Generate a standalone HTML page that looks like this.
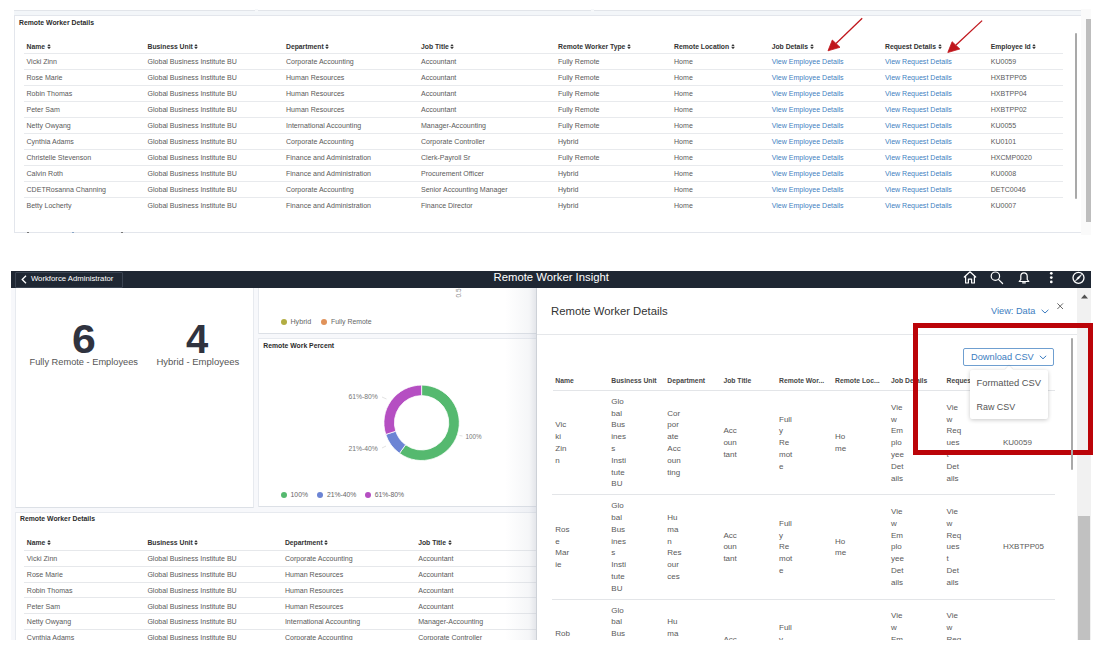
<!DOCTYPE html>
<html><head><meta charset="utf-8"><style>
html,body{margin:0;padding:0;}
body{width:1110px;height:655px;overflow:hidden;position:relative;background:#fff;font-family:"Liberation Sans",sans-serif;}
.t{position:absolute;white-space:nowrap;}
.r{position:absolute;}
</style></head><body>
<div class="r" style="left:14px;top:10px;width:1077px;height:1px;background:#e2e5ea"></div>
<div class="r" style="left:14px;top:11px;width:1077px;height:4px;background:#f3f6f9"></div>
<div class="r" style="left:255px;top:9px;width:3px;height:3px;background:#f6f8fa"></div>
<div class="r" style="left:591px;top:9px;width:3px;height:3px;background:#f6f8fa"></div>
<div class="r" style="left:13.5px;top:15px;width:1068px;height:218px;background:#fff;border:1px solid #e3e6ec;box-sizing:border-box"></div>
<div class="t " style="left:19px;top:18.75px;font-size:6.86px;line-height:7.89px;color:#2b2b2b;font-weight:bold;">Remote Worker Details</div>
<div class="r" style="left:27px;top:231.5px;width:2px;height:1px;background:#777"></div>
<div class="r" style="left:71.5px;top:231.5px;width:2px;height:1px;background:#8aa6c6"></div>
<div class="r" style="left:121px;top:231.5px;width:2px;height:1px;background:#777"></div>
<div class="t" style="left:26.5px;top:42.89px;font-size:6.8px;line-height:7.82px;color:#333;font-weight:bold">Name<svg width="4" height="5.2" viewBox="0 0 4 5.2" style="margin-left:1.6px;vertical-align:-0.2px"><path d="M0.2 2.2 L2 0 L3.8 2.2Z M0.2 3 L3.8 3 L2 5.2Z" fill="#3a3a3a"/></svg></div>
<div class="t" style="left:147.5px;top:42.89px;font-size:6.8px;line-height:7.82px;color:#333;font-weight:bold">Business Unit<svg width="4" height="5.2" viewBox="0 0 4 5.2" style="margin-left:1.6px;vertical-align:-0.2px"><path d="M0.2 2.2 L2 0 L3.8 2.2Z M0.2 3 L3.8 3 L2 5.2Z" fill="#3a3a3a"/></svg></div>
<div class="t" style="left:286px;top:42.89px;font-size:6.8px;line-height:7.82px;color:#333;font-weight:bold">Department<svg width="4" height="5.2" viewBox="0 0 4 5.2" style="margin-left:1.6px;vertical-align:-0.2px"><path d="M0.2 2.2 L2 0 L3.8 2.2Z M0.2 3 L3.8 3 L2 5.2Z" fill="#3a3a3a"/></svg></div>
<div class="t" style="left:421px;top:42.89px;font-size:6.8px;line-height:7.82px;color:#333;font-weight:bold">Job Title<svg width="4" height="5.2" viewBox="0 0 4 5.2" style="margin-left:1.6px;vertical-align:-0.2px"><path d="M0.2 2.2 L2 0 L3.8 2.2Z M0.2 3 L3.8 3 L2 5.2Z" fill="#3a3a3a"/></svg></div>
<div class="t" style="left:558px;top:42.89px;font-size:6.8px;line-height:7.82px;color:#333;font-weight:bold">Remote Worker Type<svg width="4" height="5.2" viewBox="0 0 4 5.2" style="margin-left:1.6px;vertical-align:-0.2px"><path d="M0.2 2.2 L2 0 L3.8 2.2Z M0.2 3 L3.8 3 L2 5.2Z" fill="#3a3a3a"/></svg></div>
<div class="t" style="left:674px;top:42.89px;font-size:6.8px;line-height:7.82px;color:#333;font-weight:bold">Remote Location<svg width="4" height="5.2" viewBox="0 0 4 5.2" style="margin-left:1.6px;vertical-align:-0.2px"><path d="M0.2 2.2 L2 0 L3.8 2.2Z M0.2 3 L3.8 3 L2 5.2Z" fill="#3a3a3a"/></svg></div>
<div class="t" style="left:771.7px;top:42.89px;font-size:6.8px;line-height:7.82px;color:#333;font-weight:bold">Job Details<svg width="4" height="5.2" viewBox="0 0 4 5.2" style="margin-left:1.6px;vertical-align:-0.2px"><path d="M0.2 2.2 L2 0 L3.8 2.2Z M0.2 3 L3.8 3 L2 5.2Z" fill="#3a3a3a"/></svg></div>
<div class="t" style="left:885px;top:42.89px;font-size:6.8px;line-height:7.82px;color:#333;font-weight:bold">Request Details<svg width="4" height="5.2" viewBox="0 0 4 5.2" style="margin-left:1.6px;vertical-align:-0.2px"><path d="M0.2 2.2 L2 0 L3.8 2.2Z M0.2 3 L3.8 3 L2 5.2Z" fill="#3a3a3a"/></svg></div>
<div class="t" style="left:990.7px;top:42.89px;font-size:6.8px;line-height:7.82px;color:#333;font-weight:bold">Employee Id<svg width="4" height="5.2" viewBox="0 0 4 5.2" style="margin-left:1.6px;vertical-align:-0.2px"><path d="M0.2 2.2 L2 0 L3.8 2.2Z M0.2 3 L3.8 3 L2 5.2Z" fill="#3a3a3a"/></svg></div>
<div class="r" style="left:24px;top:53.4px;width:1039px;height:1px;background:#e8eaed"></div>
<div class="t " style="left:26.5px;top:58.34px;font-size:7.05px;line-height:8.11px;color:#5a5a5a;font-weight:normal;">Vicki Zinn</div>
<div class="t " style="left:147.5px;top:58.34px;font-size:7.05px;line-height:8.11px;color:#5a5a5a;font-weight:normal;">Global Business Institute BU</div>
<div class="t " style="left:286px;top:58.34px;font-size:7.05px;line-height:8.11px;color:#5a5a5a;font-weight:normal;">Corporate Accounting</div>
<div class="t " style="left:421px;top:58.34px;font-size:7.05px;line-height:8.11px;color:#5a5a5a;font-weight:normal;">Accountant</div>
<div class="t " style="left:558px;top:58.34px;font-size:7.05px;line-height:8.11px;color:#5a5a5a;font-weight:normal;">Fully Remote</div>
<div class="t " style="left:674px;top:58.34px;font-size:7.05px;line-height:8.11px;color:#5a5a5a;font-weight:normal;">Home</div>
<div class="t " style="left:771.7px;top:58.34px;font-size:7.05px;line-height:8.11px;color:#3f7fbf;font-weight:normal;">View Employee Details</div>
<div class="t " style="left:885px;top:58.34px;font-size:7.05px;line-height:8.11px;color:#3f7fbf;font-weight:normal;">View Request Details</div>
<div class="t " style="left:990.7px;top:58.34px;font-size:7.05px;line-height:8.11px;color:#5a5a5a;font-weight:normal;">KU0059</div>
<div class="r" style="left:24px;top:69.36px;width:1039px;height:1px;background:#e8eaed"></div>
<div class="t " style="left:26.5px;top:74.31px;font-size:7.05px;line-height:8.11px;color:#5a5a5a;font-weight:normal;">Rose Marie</div>
<div class="t " style="left:147.5px;top:74.31px;font-size:7.05px;line-height:8.11px;color:#5a5a5a;font-weight:normal;">Global Business Institute BU</div>
<div class="t " style="left:286px;top:74.31px;font-size:7.05px;line-height:8.11px;color:#5a5a5a;font-weight:normal;">Human Resources</div>
<div class="t " style="left:421px;top:74.31px;font-size:7.05px;line-height:8.11px;color:#5a5a5a;font-weight:normal;">Accountant</div>
<div class="t " style="left:558px;top:74.31px;font-size:7.05px;line-height:8.11px;color:#5a5a5a;font-weight:normal;">Fully Remote</div>
<div class="t " style="left:674px;top:74.31px;font-size:7.05px;line-height:8.11px;color:#5a5a5a;font-weight:normal;">Home</div>
<div class="t " style="left:771.7px;top:74.31px;font-size:7.05px;line-height:8.11px;color:#3f7fbf;font-weight:normal;">View Employee Details</div>
<div class="t " style="left:885px;top:74.31px;font-size:7.05px;line-height:8.11px;color:#3f7fbf;font-weight:normal;">View Request Details</div>
<div class="t " style="left:990.7px;top:74.31px;font-size:7.05px;line-height:8.11px;color:#5a5a5a;font-weight:normal;">HXBTPP05</div>
<div class="r" style="left:24px;top:85.32px;width:1039px;height:1px;background:#e8eaed"></div>
<div class="t " style="left:26.5px;top:90.26px;font-size:7.05px;line-height:8.11px;color:#5a5a5a;font-weight:normal;">Robin Thomas</div>
<div class="t " style="left:147.5px;top:90.26px;font-size:7.05px;line-height:8.11px;color:#5a5a5a;font-weight:normal;">Global Business Institute BU</div>
<div class="t " style="left:286px;top:90.26px;font-size:7.05px;line-height:8.11px;color:#5a5a5a;font-weight:normal;">Human Resources</div>
<div class="t " style="left:421px;top:90.26px;font-size:7.05px;line-height:8.11px;color:#5a5a5a;font-weight:normal;">Accountant</div>
<div class="t " style="left:558px;top:90.26px;font-size:7.05px;line-height:8.11px;color:#5a5a5a;font-weight:normal;">Fully Remote</div>
<div class="t " style="left:674px;top:90.26px;font-size:7.05px;line-height:8.11px;color:#5a5a5a;font-weight:normal;">Home</div>
<div class="t " style="left:771.7px;top:90.26px;font-size:7.05px;line-height:8.11px;color:#3f7fbf;font-weight:normal;">View Employee Details</div>
<div class="t " style="left:885px;top:90.26px;font-size:7.05px;line-height:8.11px;color:#3f7fbf;font-weight:normal;">View Request Details</div>
<div class="t " style="left:990.7px;top:90.26px;font-size:7.05px;line-height:8.11px;color:#5a5a5a;font-weight:normal;">HXBTPP04</div>
<div class="r" style="left:24px;top:101.28px;width:1039px;height:1px;background:#e8eaed"></div>
<div class="t " style="left:26.5px;top:106.22px;font-size:7.05px;line-height:8.11px;color:#5a5a5a;font-weight:normal;">Peter Sam</div>
<div class="t " style="left:147.5px;top:106.22px;font-size:7.05px;line-height:8.11px;color:#5a5a5a;font-weight:normal;">Global Business Institute BU</div>
<div class="t " style="left:286px;top:106.22px;font-size:7.05px;line-height:8.11px;color:#5a5a5a;font-weight:normal;">Human Resources</div>
<div class="t " style="left:421px;top:106.22px;font-size:7.05px;line-height:8.11px;color:#5a5a5a;font-weight:normal;">Accountant</div>
<div class="t " style="left:558px;top:106.22px;font-size:7.05px;line-height:8.11px;color:#5a5a5a;font-weight:normal;">Fully Remote</div>
<div class="t " style="left:674px;top:106.22px;font-size:7.05px;line-height:8.11px;color:#5a5a5a;font-weight:normal;">Home</div>
<div class="t " style="left:771.7px;top:106.22px;font-size:7.05px;line-height:8.11px;color:#3f7fbf;font-weight:normal;">View Employee Details</div>
<div class="t " style="left:885px;top:106.22px;font-size:7.05px;line-height:8.11px;color:#3f7fbf;font-weight:normal;">View Request Details</div>
<div class="t " style="left:990.7px;top:106.22px;font-size:7.05px;line-height:8.11px;color:#5a5a5a;font-weight:normal;">HXBTPP02</div>
<div class="r" style="left:24px;top:117.24px;width:1039px;height:1px;background:#e8eaed"></div>
<div class="t " style="left:26.5px;top:122.19px;font-size:7.05px;line-height:8.11px;color:#5a5a5a;font-weight:normal;">Netty Owyang</div>
<div class="t " style="left:147.5px;top:122.19px;font-size:7.05px;line-height:8.11px;color:#5a5a5a;font-weight:normal;">Global Business Institute BU</div>
<div class="t " style="left:286px;top:122.19px;font-size:7.05px;line-height:8.11px;color:#5a5a5a;font-weight:normal;">International Accounting</div>
<div class="t " style="left:421px;top:122.19px;font-size:7.05px;line-height:8.11px;color:#5a5a5a;font-weight:normal;">Manager-Accounting</div>
<div class="t " style="left:558px;top:122.19px;font-size:7.05px;line-height:8.11px;color:#5a5a5a;font-weight:normal;">Fully Remote</div>
<div class="t " style="left:674px;top:122.19px;font-size:7.05px;line-height:8.11px;color:#5a5a5a;font-weight:normal;">Home</div>
<div class="t " style="left:771.7px;top:122.19px;font-size:7.05px;line-height:8.11px;color:#3f7fbf;font-weight:normal;">View Employee Details</div>
<div class="t " style="left:885px;top:122.19px;font-size:7.05px;line-height:8.11px;color:#3f7fbf;font-weight:normal;">View Request Details</div>
<div class="t " style="left:990.7px;top:122.19px;font-size:7.05px;line-height:8.11px;color:#5a5a5a;font-weight:normal;">KU0055</div>
<div class="r" style="left:24px;top:133.2px;width:1039px;height:1px;background:#e8eaed"></div>
<div class="t " style="left:26.5px;top:138.15px;font-size:7.05px;line-height:8.11px;color:#5a5a5a;font-weight:normal;">Cynthia Adams</div>
<div class="t " style="left:147.5px;top:138.15px;font-size:7.05px;line-height:8.11px;color:#5a5a5a;font-weight:normal;">Global Business Institute BU</div>
<div class="t " style="left:286px;top:138.15px;font-size:7.05px;line-height:8.11px;color:#5a5a5a;font-weight:normal;">Corporate Accounting</div>
<div class="t " style="left:421px;top:138.15px;font-size:7.05px;line-height:8.11px;color:#5a5a5a;font-weight:normal;">Corporate Controller</div>
<div class="t " style="left:558px;top:138.15px;font-size:7.05px;line-height:8.11px;color:#5a5a5a;font-weight:normal;">Hybrid</div>
<div class="t " style="left:674px;top:138.15px;font-size:7.05px;line-height:8.11px;color:#5a5a5a;font-weight:normal;">Home</div>
<div class="t " style="left:771.7px;top:138.15px;font-size:7.05px;line-height:8.11px;color:#3f7fbf;font-weight:normal;">View Employee Details</div>
<div class="t " style="left:885px;top:138.15px;font-size:7.05px;line-height:8.11px;color:#3f7fbf;font-weight:normal;">View Request Details</div>
<div class="t " style="left:990.7px;top:138.15px;font-size:7.05px;line-height:8.11px;color:#5a5a5a;font-weight:normal;">KU0101</div>
<div class="r" style="left:24px;top:149.16px;width:1039px;height:1px;background:#e8eaed"></div>
<div class="t " style="left:26.5px;top:154.1px;font-size:7.05px;line-height:8.11px;color:#5a5a5a;font-weight:normal;">Christelle Stevenson</div>
<div class="t " style="left:147.5px;top:154.1px;font-size:7.05px;line-height:8.11px;color:#5a5a5a;font-weight:normal;">Global Business Institute BU</div>
<div class="t " style="left:286px;top:154.1px;font-size:7.05px;line-height:8.11px;color:#5a5a5a;font-weight:normal;">Finance and Administration</div>
<div class="t " style="left:421px;top:154.1px;font-size:7.05px;line-height:8.11px;color:#5a5a5a;font-weight:normal;">Clerk-Payroll Sr</div>
<div class="t " style="left:558px;top:154.1px;font-size:7.05px;line-height:8.11px;color:#5a5a5a;font-weight:normal;">Fully Remote</div>
<div class="t " style="left:674px;top:154.1px;font-size:7.05px;line-height:8.11px;color:#5a5a5a;font-weight:normal;">Home</div>
<div class="t " style="left:771.7px;top:154.1px;font-size:7.05px;line-height:8.11px;color:#3f7fbf;font-weight:normal;">View Employee Details</div>
<div class="t " style="left:885px;top:154.1px;font-size:7.05px;line-height:8.11px;color:#3f7fbf;font-weight:normal;">View Request Details</div>
<div class="t " style="left:990.7px;top:154.1px;font-size:7.05px;line-height:8.11px;color:#5a5a5a;font-weight:normal;">HXCMP0020</div>
<div class="r" style="left:24px;top:165.12px;width:1039px;height:1px;background:#e8eaed"></div>
<div class="t " style="left:26.5px;top:170.06px;font-size:7.05px;line-height:8.11px;color:#5a5a5a;font-weight:normal;">Calvin Roth</div>
<div class="t " style="left:147.5px;top:170.06px;font-size:7.05px;line-height:8.11px;color:#5a5a5a;font-weight:normal;">Global Business Institute BU</div>
<div class="t " style="left:286px;top:170.06px;font-size:7.05px;line-height:8.11px;color:#5a5a5a;font-weight:normal;">Finance and Administration</div>
<div class="t " style="left:421px;top:170.06px;font-size:7.05px;line-height:8.11px;color:#5a5a5a;font-weight:normal;">Procurement Officer</div>
<div class="t " style="left:558px;top:170.06px;font-size:7.05px;line-height:8.11px;color:#5a5a5a;font-weight:normal;">Hybrid</div>
<div class="t " style="left:674px;top:170.06px;font-size:7.05px;line-height:8.11px;color:#5a5a5a;font-weight:normal;">Home</div>
<div class="t " style="left:771.7px;top:170.06px;font-size:7.05px;line-height:8.11px;color:#3f7fbf;font-weight:normal;">View Employee Details</div>
<div class="t " style="left:885px;top:170.06px;font-size:7.05px;line-height:8.11px;color:#3f7fbf;font-weight:normal;">View Request Details</div>
<div class="t " style="left:990.7px;top:170.06px;font-size:7.05px;line-height:8.11px;color:#5a5a5a;font-weight:normal;">KU0008</div>
<div class="r" style="left:24px;top:181.08px;width:1039px;height:1px;background:#e8eaed"></div>
<div class="t " style="left:26.5px;top:186.03px;font-size:7.05px;line-height:8.11px;color:#5a5a5a;font-weight:normal;">CDETRosanna Channing</div>
<div class="t " style="left:147.5px;top:186.03px;font-size:7.05px;line-height:8.11px;color:#5a5a5a;font-weight:normal;">Global Business Institute BU</div>
<div class="t " style="left:286px;top:186.03px;font-size:7.05px;line-height:8.11px;color:#5a5a5a;font-weight:normal;">Corporate Accounting</div>
<div class="t " style="left:421px;top:186.03px;font-size:7.05px;line-height:8.11px;color:#5a5a5a;font-weight:normal;">Senior Accounting Manager</div>
<div class="t " style="left:558px;top:186.03px;font-size:7.05px;line-height:8.11px;color:#5a5a5a;font-weight:normal;">Hybrid</div>
<div class="t " style="left:674px;top:186.03px;font-size:7.05px;line-height:8.11px;color:#5a5a5a;font-weight:normal;">Home</div>
<div class="t " style="left:771.7px;top:186.03px;font-size:7.05px;line-height:8.11px;color:#3f7fbf;font-weight:normal;">View Employee Details</div>
<div class="t " style="left:885px;top:186.03px;font-size:7.05px;line-height:8.11px;color:#3f7fbf;font-weight:normal;">View Request Details</div>
<div class="t " style="left:990.7px;top:186.03px;font-size:7.05px;line-height:8.11px;color:#5a5a5a;font-weight:normal;">DETC0046</div>
<div class="r" style="left:24px;top:197.04px;width:1039px;height:1px;background:#e8eaed"></div>
<div class="t " style="left:26.5px;top:201.99px;font-size:7.05px;line-height:8.11px;color:#5a5a5a;font-weight:normal;">Betty Locherty</div>
<div class="t " style="left:147.5px;top:201.99px;font-size:7.05px;line-height:8.11px;color:#5a5a5a;font-weight:normal;">Global Business Institute BU</div>
<div class="t " style="left:286px;top:201.99px;font-size:7.05px;line-height:8.11px;color:#5a5a5a;font-weight:normal;">Finance and Administration</div>
<div class="t " style="left:421px;top:201.99px;font-size:7.05px;line-height:8.11px;color:#5a5a5a;font-weight:normal;">Finance Director</div>
<div class="t " style="left:558px;top:201.99px;font-size:7.05px;line-height:8.11px;color:#5a5a5a;font-weight:normal;">Hybrid</div>
<div class="t " style="left:674px;top:201.99px;font-size:7.05px;line-height:8.11px;color:#5a5a5a;font-weight:normal;">Home</div>
<div class="t " style="left:771.7px;top:201.99px;font-size:7.05px;line-height:8.11px;color:#3f7fbf;font-weight:normal;">View Employee Details</div>
<div class="t " style="left:885px;top:201.99px;font-size:7.05px;line-height:8.11px;color:#3f7fbf;font-weight:normal;">View Request Details</div>
<div class="t " style="left:990.7px;top:201.99px;font-size:7.05px;line-height:8.11px;color:#5a5a5a;font-weight:normal;">KU0007</div>
<div class="r" style="left:1075.3px;top:33px;width:1.7px;height:165.5px;background:#a9a9a9;border-radius:1px"></div>
<div class="r" style="left:1081px;top:9px;width:10px;height:226px;background:#fafafa"></div>
<div class="r" style="left:1086.2px;top:19px;width:4.8px;height:203px;background:#bdbdbd"></div>
<svg class="r" style="left:0;top:0" width="1110" height="260" viewBox="0 0 1110 260">
<g stroke="#c0161c" stroke-width="1.3" fill="#c0161c">
<line x1="862.2" y1="18.2" x2="836" y2="43.5"/>
<path d="M828 50.8 L832.3 40 L840 47.3Z" stroke-width="0.8"/>
<line x1="982.1" y1="20.6" x2="956" y2="45"/>
<path d="M947.8 52.5 L952.1 41.7 L959.8 49Z" stroke-width="0.8"/>
</g></svg>
<div class="r" style="left:11px;top:288px;width:1066px;height:352px;background:#f7f8fb"></div>
<div class="r" style="left:15px;top:288px;width:239px;height:219.5px;background:#fff;border:1px solid #e7eaef;border-bottom-color:#dce0e6;border-top:none;box-sizing:border-box;border-radius:0 0 1px 1px"></div>
<div class="t" style="left:72.2px;top:316px;font-size:40px;line-height:46px;color:#30333f;font-weight:bold;transform:scaleX(1.07);transform-origin:0 0">6</div>
<div class="t" style="left:186px;top:316px;font-size:40px;line-height:46px;color:#30333f;font-weight:bold">4</div>
<div class="t " style="left:29.5px;top:357.18px;font-size:9.25px;line-height:10.64px;color:#555;font-weight:normal;">Fully Remote - Employees</div>
<div class="t " style="left:156.4px;top:357.04px;font-size:9.5px;line-height:10.92px;color:#555;font-weight:normal;">Hybrid - Employees</div>
<div class="r" style="left:258px;top:288px;width:285.5px;height:46px;background:#fff;border:1px solid #e7eaef;border-bottom-color:#dce0e6;border-top:none;box-sizing:border-box;border-radius:0 0 1px 1px"></div>
<div class="t" style="left:454px;top:289px;font-size:6.5px;line-height:8px;color:#888;transform:rotate(-90deg);transform-origin:50% 50%">0.5</div>
<div class="r" style="left:280.6px;top:319.1px;width:6.2px;height:6.2px;background:#b2ad42;border-radius:50%"></div>
<div class="t " style="left:290.4px;top:318.06px;font-size:7.2px;line-height:8.28px;color:#666;font-weight:normal;">Hybrid</div>
<div class="r" style="left:321.3px;top:319.1px;width:6.2px;height:6.2px;background:#e0925a;border-radius:50%"></div>
<div class="t " style="left:331px;top:318.24px;font-size:6.9px;line-height:7.93px;color:#666;font-weight:normal;">Fully Remote</div>
<div class="r" style="left:258px;top:338px;width:285.5px;height:168.5px;background:#fff;border:1px solid #e7eaef;border-bottom-color:#dce0e6;box-sizing:border-box;border-radius:1px"></div>
<div class="t " style="left:263.3px;top:341.68px;font-size:6.83px;line-height:7.85px;color:#2b2b2b;font-weight:bold;">Remote Work Percent</div>
<svg class="r" style="left:0;top:0" width="1110" height="655" viewBox="0 0 1110 655"><path d="M421.60 385.10 A37.7 37.7 0 1 1 399.44 453.30 L405.61 444.81 A27.2 27.2 0 1 0 421.60 395.60Z" fill="#55b96f" stroke="#fff" stroke-width="0.8"/><path d="M399.44 453.30 A37.7 37.7 0 0 1 385.75 434.45 L395.73 431.21 A27.2 27.2 0 0 0 405.61 444.81Z" fill="#6c84d4" stroke="#fff" stroke-width="0.8"/><path d="M385.75 434.45 A37.7 37.7 0 0 1 421.60 385.10 L421.60 395.60 A27.2 27.2 0 0 0 395.73 431.21Z" fill="#b54fc2" stroke="#fff" stroke-width="0.8"/><g stroke="#d5d5d5" stroke-width="0.7" fill="none"><path d="M382 397 L386.5 399"/><path d="M382 448 L386 446"/><path d="M459.5 435.5 L462.5 436"/></g></svg>
<div class="t " style="left:348.4px;top:392.89px;font-size:6.8px;line-height:7.82px;color:#777;font-weight:normal;">61%-80%</div>
<div class="t " style="left:348.4px;top:444.99px;font-size:6.8px;line-height:7.82px;color:#777;font-weight:normal;">21%-40%</div>
<div class="t " style="left:465.5px;top:432.58px;font-size:6.3px;line-height:7.24px;color:#777;font-weight:normal;">100%</div>
<div class="r" style="left:280.9px;top:492.2px;width:6.2px;height:6.2px;background:#55b96f;border-radius:50%"></div>
<div class="t " style="left:290.6px;top:491.39px;font-size:6.8px;line-height:7.82px;color:#666;font-weight:normal;">100%</div>
<div class="r" style="left:317.1px;top:492.2px;width:6.2px;height:6.2px;background:#6c84d4;border-radius:50%"></div>
<div class="t " style="left:326.9px;top:491.39px;font-size:6.8px;line-height:7.82px;color:#666;font-weight:normal;">21%-40%</div>
<div class="r" style="left:364.9px;top:492.2px;width:6.2px;height:6.2px;background:#b54fc2;border-radius:50%"></div>
<div class="t " style="left:374.7px;top:491.39px;font-size:6.8px;line-height:7.82px;color:#666;font-weight:normal;">61%-80%</div>
<div class="r" style="left:15px;top:511.6px;width:530px;height:140px;background:#fff;border:1px solid #e7eaef;border-bottom-color:#dce0e6;box-sizing:border-box;border-radius:1px"></div>
<div class="t " style="left:20px;top:515.05px;font-size:6.86px;line-height:7.89px;color:#2b2b2b;font-weight:bold;">Remote Worker Details</div>
<div class="t" style="left:26.8px;top:539.29px;font-size:6.8px;line-height:7.82px;color:#333;font-weight:bold">Name<svg width="4" height="5.2" viewBox="0 0 4 5.2" style="margin-left:1.6px;vertical-align:-0.2px"><path d="M0.2 2.2 L2 0 L3.8 2.2Z M0.2 3 L3.8 3 L2 5.2Z" fill="#3a3a3a"/></svg></div>
<div class="t" style="left:147.4px;top:539.29px;font-size:6.8px;line-height:7.82px;color:#333;font-weight:bold">Business Unit<svg width="4" height="5.2" viewBox="0 0 4 5.2" style="margin-left:1.6px;vertical-align:-0.2px"><path d="M0.2 2.2 L2 0 L3.8 2.2Z M0.2 3 L3.8 3 L2 5.2Z" fill="#3a3a3a"/></svg></div>
<div class="t" style="left:284.9px;top:539.29px;font-size:6.8px;line-height:7.82px;color:#333;font-weight:bold">Department<svg width="4" height="5.2" viewBox="0 0 4 5.2" style="margin-left:1.6px;vertical-align:-0.2px"><path d="M0.2 2.2 L2 0 L3.8 2.2Z M0.2 3 L3.8 3 L2 5.2Z" fill="#3a3a3a"/></svg></div>
<div class="t" style="left:418.2px;top:539.29px;font-size:6.8px;line-height:7.82px;color:#333;font-weight:bold">Job Title<svg width="4" height="5.2" viewBox="0 0 4 5.2" style="margin-left:1.6px;vertical-align:-0.2px"><path d="M0.2 2.2 L2 0 L3.8 2.2Z M0.2 3 L3.8 3 L2 5.2Z" fill="#3a3a3a"/></svg></div>
<div class="r" style="left:24px;top:550.0px;width:520px;height:1px;background:#e6e8eb"></div>
<div class="t " style="left:26.8px;top:554.95px;font-size:7.05px;line-height:8.11px;color:#5a5a5a;font-weight:normal;">Vicki Zinn</div>
<div class="t " style="left:147.4px;top:554.95px;font-size:7.05px;line-height:8.11px;color:#5a5a5a;font-weight:normal;">Global Business Institute BU</div>
<div class="t " style="left:284.9px;top:554.95px;font-size:7.05px;line-height:8.11px;color:#5a5a5a;font-weight:normal;">Corporate Accounting</div>
<div class="t " style="left:418.2px;top:554.95px;font-size:7.05px;line-height:8.11px;color:#5a5a5a;font-weight:normal;">Accountant</div>
<div class="r" style="left:24px;top:565.8px;width:520px;height:1px;background:#e6e8eb"></div>
<div class="t " style="left:26.8px;top:570.8px;font-size:7.05px;line-height:8.11px;color:#5a5a5a;font-weight:normal;">Rose Marie</div>
<div class="t " style="left:147.4px;top:570.8px;font-size:7.05px;line-height:8.11px;color:#5a5a5a;font-weight:normal;">Global Business Institute BU</div>
<div class="t " style="left:284.9px;top:570.8px;font-size:7.05px;line-height:8.11px;color:#5a5a5a;font-weight:normal;">Human Resources</div>
<div class="t " style="left:418.2px;top:570.8px;font-size:7.05px;line-height:8.11px;color:#5a5a5a;font-weight:normal;">Accountant</div>
<div class="r" style="left:24px;top:581.6px;width:520px;height:1px;background:#e6e8eb"></div>
<div class="t " style="left:26.8px;top:586.65px;font-size:7.05px;line-height:8.11px;color:#5a5a5a;font-weight:normal;">Robin Thomas</div>
<div class="t " style="left:147.4px;top:586.65px;font-size:7.05px;line-height:8.11px;color:#5a5a5a;font-weight:normal;">Global Business Institute BU</div>
<div class="t " style="left:284.9px;top:586.65px;font-size:7.05px;line-height:8.11px;color:#5a5a5a;font-weight:normal;">Human Resources</div>
<div class="t " style="left:418.2px;top:586.65px;font-size:7.05px;line-height:8.11px;color:#5a5a5a;font-weight:normal;">Accountant</div>
<div class="r" style="left:24px;top:597.4px;width:520px;height:1px;background:#e6e8eb"></div>
<div class="t " style="left:26.8px;top:602.5px;font-size:7.05px;line-height:8.11px;color:#5a5a5a;font-weight:normal;">Peter Sam</div>
<div class="t " style="left:147.4px;top:602.5px;font-size:7.05px;line-height:8.11px;color:#5a5a5a;font-weight:normal;">Global Business Institute BU</div>
<div class="t " style="left:284.9px;top:602.5px;font-size:7.05px;line-height:8.11px;color:#5a5a5a;font-weight:normal;">Human Resources</div>
<div class="t " style="left:418.2px;top:602.5px;font-size:7.05px;line-height:8.11px;color:#5a5a5a;font-weight:normal;">Accountant</div>
<div class="r" style="left:24px;top:613.2px;width:520px;height:1px;background:#e6e8eb"></div>
<div class="t " style="left:26.8px;top:618.35px;font-size:7.05px;line-height:8.11px;color:#5a5a5a;font-weight:normal;">Netty Owyang</div>
<div class="t " style="left:147.4px;top:618.35px;font-size:7.05px;line-height:8.11px;color:#5a5a5a;font-weight:normal;">Global Business Institute BU</div>
<div class="t " style="left:284.9px;top:618.35px;font-size:7.05px;line-height:8.11px;color:#5a5a5a;font-weight:normal;">International Accounting</div>
<div class="t " style="left:418.2px;top:618.35px;font-size:7.05px;line-height:8.11px;color:#5a5a5a;font-weight:normal;">Manager-Accounting</div>
<div class="r" style="left:24px;top:629.0px;width:520px;height:1px;background:#e6e8eb"></div>
<div class="t " style="left:26.8px;top:634.2px;font-size:7.05px;line-height:8.11px;color:#5a5a5a;font-weight:normal;">Cynthia Adams</div>
<div class="t " style="left:147.4px;top:634.2px;font-size:7.05px;line-height:8.11px;color:#5a5a5a;font-weight:normal;">Global Business Institute BU</div>
<div class="t " style="left:284.9px;top:634.2px;font-size:7.05px;line-height:8.11px;color:#5a5a5a;font-weight:normal;">Corporate Accounting</div>
<div class="t " style="left:418.2px;top:634.2px;font-size:7.05px;line-height:8.11px;color:#5a5a5a;font-weight:normal;">Corporate Controller</div>
<div class="r" style="left:505px;top:288px;width:32px;height:352px;background:linear-gradient(to right, rgba(200,205,215,0) 0%, rgba(200,205,215,0.18) 75%, rgba(180,186,198,0.4) 100%)"></div>
<div class="r" style="left:537px;top:288px;width:540px;height:352px;background:#fff"></div>
<div class="r" style="left:536.3px;top:288px;width:1px;height:352px;background:#cdd1d7"></div>
<div class="t " style="left:551.1px;top:305.0px;font-size:11.3px;line-height:12.99px;color:#333;font-weight:normal;">Remote Worker Details</div>
<div class="t " style="left:991.1px;top:305.71px;font-size:9.2px;line-height:10.58px;color:#3b7cc0;font-weight:normal;">View: Data</div>
<svg class="r" style="left:1040.5px;top:308.6px" width="8" height="5" viewBox="0 0 8 5"><path d="M0.6 0.8 L4 4 L7.4 0.8" stroke="#3b7cc0" stroke-width="1" fill="none"/></svg>
<svg class="r" style="left:1057.3px;top:302.6px" width="6.4" height="6.4" viewBox="0 0 6.4 6.4"><path d="M0.4 0.4 L6 6 M6 0.4 L0.4 6" stroke="#555" stroke-width="0.9" fill="none"/></svg>
<div class="r" style="left:537px;top:334px;width:540px;height:1px;background:#e5e7ea"></div>
<div class="r" style="left:963.4px;top:348.3px;width:91px;height:17.4px;border:1px solid #6f9fd0;border-radius:2px;box-sizing:border-box;background:#fff"></div>
<div class="t " style="left:971px;top:351.68px;font-size:9.25px;line-height:10.64px;color:#3b7cc0;font-weight:normal;">Download CSV</div>
<svg class="r" style="left:1039px;top:355px" width="8" height="5" viewBox="0 0 8 5"><path d="M0.8 0.8 L4 3.8 L7.2 0.8" stroke="#3b7cc0" stroke-width="1" fill="none"/></svg>
<div class="t" style="left:555.3px;top:377.19px;font-size:6.8px;line-height:7.82px;color:#474747;font-weight:bold">Name</div>
<div class="t" style="left:611.3px;top:377.19px;font-size:6.8px;line-height:7.82px;color:#474747;font-weight:bold">Business Unit</div>
<div class="t" style="left:667.3px;top:377.19px;font-size:6.8px;line-height:7.82px;color:#474747;font-weight:bold">Department</div>
<div class="t" style="left:723.4px;top:377.19px;font-size:6.8px;line-height:7.82px;color:#474747;font-weight:bold">Job Title</div>
<div class="t" style="left:779px;top:377.19px;font-size:6.8px;line-height:7.82px;color:#474747;font-weight:bold">Remote Wor...</div>
<div class="t" style="left:835.1px;top:377.19px;font-size:6.8px;line-height:7.82px;color:#474747;font-weight:bold">Remote Loc...</div>
<div class="t" style="left:891px;top:377.19px;font-size:6.8px;line-height:7.82px;color:#474747;font-weight:bold">Job Details</div>
<div class="t" style="left:946.6px;top:377.19px;font-size:6.8px;line-height:7.82px;color:#474747;font-weight:bold">Reques</div>
<div class="r" style="left:552.5px;top:390px;width:502px;height:1px;background:#e3e5e8"></div>
<div class="r" style="left:537px;top:391px;width:540px;height:249px;overflow:hidden">
<div class="t " style="left:18.30px;top:29.40px;font-size:8.0px;line-height:9.2px;color:#5a5a5a;font-weight:normal;">Vic</div>
<div class="t " style="left:18.30px;top:41.20px;font-size:8.0px;line-height:9.2px;color:#5a5a5a;font-weight:normal;">ki</div>
<div class="t " style="left:18.30px;top:53.00px;font-size:8.0px;line-height:9.2px;color:#5a5a5a;font-weight:normal;">Zin</div>
<div class="t " style="left:18.30px;top:64.80px;font-size:8.0px;line-height:9.2px;color:#5a5a5a;font-weight:normal;">n</div>
<div class="t " style="left:74.30px;top:5.80px;font-size:8.0px;line-height:9.2px;color:#5a5a5a;font-weight:normal;">Glo</div>
<div class="t " style="left:74.30px;top:17.60px;font-size:8.0px;line-height:9.2px;color:#5a5a5a;font-weight:normal;">bal</div>
<div class="t " style="left:74.30px;top:29.40px;font-size:8.0px;line-height:9.2px;color:#5a5a5a;font-weight:normal;">Bus</div>
<div class="t " style="left:74.30px;top:41.20px;font-size:8.0px;line-height:9.2px;color:#5a5a5a;font-weight:normal;">ines</div>
<div class="t " style="left:74.30px;top:53.00px;font-size:8.0px;line-height:9.2px;color:#5a5a5a;font-weight:normal;">s</div>
<div class="t " style="left:74.30px;top:64.80px;font-size:8.0px;line-height:9.2px;color:#5a5a5a;font-weight:normal;">Insti</div>
<div class="t " style="left:74.30px;top:76.60px;font-size:8.0px;line-height:9.2px;color:#5a5a5a;font-weight:normal;">tute</div>
<div class="t " style="left:74.30px;top:88.40px;font-size:8.0px;line-height:9.2px;color:#5a5a5a;font-weight:normal;">BU</div>
<div class="t " style="left:130.30px;top:17.60px;font-size:8.0px;line-height:9.2px;color:#5a5a5a;font-weight:normal;">Cor</div>
<div class="t " style="left:130.30px;top:29.40px;font-size:8.0px;line-height:9.2px;color:#5a5a5a;font-weight:normal;">por</div>
<div class="t " style="left:130.30px;top:41.20px;font-size:8.0px;line-height:9.2px;color:#5a5a5a;font-weight:normal;">ate</div>
<div class="t " style="left:130.30px;top:53.00px;font-size:8.0px;line-height:9.2px;color:#5a5a5a;font-weight:normal;">Acc</div>
<div class="t " style="left:130.30px;top:64.80px;font-size:8.0px;line-height:9.2px;color:#5a5a5a;font-weight:normal;">oun</div>
<div class="t " style="left:130.30px;top:76.60px;font-size:8.0px;line-height:9.2px;color:#5a5a5a;font-weight:normal;">ting</div>
<div class="t " style="left:186.40px;top:35.30px;font-size:8.0px;line-height:9.2px;color:#5a5a5a;font-weight:normal;">Acc</div>
<div class="t " style="left:186.40px;top:47.10px;font-size:8.0px;line-height:9.2px;color:#5a5a5a;font-weight:normal;">oun</div>
<div class="t " style="left:186.40px;top:58.90px;font-size:8.0px;line-height:9.2px;color:#5a5a5a;font-weight:normal;">tant</div>
<div class="t " style="left:242.00px;top:23.50px;font-size:8.0px;line-height:9.2px;color:#5a5a5a;font-weight:normal;">Full</div>
<div class="t " style="left:242.00px;top:35.30px;font-size:8.0px;line-height:9.2px;color:#5a5a5a;font-weight:normal;">y</div>
<div class="t " style="left:242.00px;top:47.10px;font-size:8.0px;line-height:9.2px;color:#5a5a5a;font-weight:normal;">Re</div>
<div class="t " style="left:242.00px;top:58.90px;font-size:8.0px;line-height:9.2px;color:#5a5a5a;font-weight:normal;">mot</div>
<div class="t " style="left:242.00px;top:70.70px;font-size:8.0px;line-height:9.2px;color:#5a5a5a;font-weight:normal;">e</div>
<div class="t " style="left:298.10px;top:41.20px;font-size:8.0px;line-height:9.2px;color:#5a5a5a;font-weight:normal;">Ho</div>
<div class="t " style="left:298.10px;top:53.00px;font-size:8.0px;line-height:9.2px;color:#5a5a5a;font-weight:normal;">me</div>
<div class="t " style="left:354.00px;top:11.70px;font-size:8.0px;line-height:9.2px;color:#5a5a5a;font-weight:normal;">Vie</div>
<div class="t " style="left:354.00px;top:23.50px;font-size:8.0px;line-height:9.2px;color:#5a5a5a;font-weight:normal;">w</div>
<div class="t " style="left:354.00px;top:35.30px;font-size:8.0px;line-height:9.2px;color:#5a5a5a;font-weight:normal;">Em</div>
<div class="t " style="left:354.00px;top:47.10px;font-size:8.0px;line-height:9.2px;color:#5a5a5a;font-weight:normal;">plo</div>
<div class="t " style="left:354.00px;top:58.90px;font-size:8.0px;line-height:9.2px;color:#5a5a5a;font-weight:normal;">yee</div>
<div class="t " style="left:354.00px;top:70.70px;font-size:8.0px;line-height:9.2px;color:#5a5a5a;font-weight:normal;">Det</div>
<div class="t " style="left:354.00px;top:82.50px;font-size:8.0px;line-height:9.2px;color:#5a5a5a;font-weight:normal;">ails</div>
<div class="t " style="left:409.60px;top:11.70px;font-size:8.0px;line-height:9.2px;color:#5a5a5a;font-weight:normal;">Vie</div>
<div class="t " style="left:409.60px;top:23.50px;font-size:8.0px;line-height:9.2px;color:#5a5a5a;font-weight:normal;">w</div>
<div class="t " style="left:409.60px;top:35.30px;font-size:8.0px;line-height:9.2px;color:#5a5a5a;font-weight:normal;">Req</div>
<div class="t " style="left:409.60px;top:47.10px;font-size:8.0px;line-height:9.2px;color:#5a5a5a;font-weight:normal;">ues</div>
<div class="t " style="left:409.60px;top:58.90px;font-size:8.0px;line-height:9.2px;color:#5a5a5a;font-weight:normal;">t</div>
<div class="t " style="left:409.60px;top:70.70px;font-size:8.0px;line-height:9.2px;color:#5a5a5a;font-weight:normal;">Det</div>
<div class="t " style="left:409.60px;top:82.50px;font-size:8.0px;line-height:9.2px;color:#5a5a5a;font-weight:normal;">ails</div>
<div class="t " style="left:466.00px;top:47.10px;font-size:8.0px;line-height:9.2px;color:#5a5a5a;font-weight:normal;">KU0059</div>
<div class="t " style="left:18.30px;top:133.70px;font-size:8.0px;line-height:9.2px;color:#5a5a5a;font-weight:normal;">Ros</div>
<div class="t " style="left:18.30px;top:145.50px;font-size:8.0px;line-height:9.2px;color:#5a5a5a;font-weight:normal;">e</div>
<div class="t " style="left:18.30px;top:157.30px;font-size:8.0px;line-height:9.2px;color:#5a5a5a;font-weight:normal;">Mar</div>
<div class="t " style="left:18.30px;top:169.10px;font-size:8.0px;line-height:9.2px;color:#5a5a5a;font-weight:normal;">ie</div>
<div class="t " style="left:74.30px;top:110.10px;font-size:8.0px;line-height:9.2px;color:#5a5a5a;font-weight:normal;">Glo</div>
<div class="t " style="left:74.30px;top:121.90px;font-size:8.0px;line-height:9.2px;color:#5a5a5a;font-weight:normal;">bal</div>
<div class="t " style="left:74.30px;top:133.70px;font-size:8.0px;line-height:9.2px;color:#5a5a5a;font-weight:normal;">Bus</div>
<div class="t " style="left:74.30px;top:145.50px;font-size:8.0px;line-height:9.2px;color:#5a5a5a;font-weight:normal;">ines</div>
<div class="t " style="left:74.30px;top:157.30px;font-size:8.0px;line-height:9.2px;color:#5a5a5a;font-weight:normal;">s</div>
<div class="t " style="left:74.30px;top:169.10px;font-size:8.0px;line-height:9.2px;color:#5a5a5a;font-weight:normal;">Insti</div>
<div class="t " style="left:74.30px;top:180.90px;font-size:8.0px;line-height:9.2px;color:#5a5a5a;font-weight:normal;">tute</div>
<div class="t " style="left:74.30px;top:192.70px;font-size:8.0px;line-height:9.2px;color:#5a5a5a;font-weight:normal;">BU</div>
<div class="t " style="left:130.30px;top:121.90px;font-size:8.0px;line-height:9.2px;color:#5a5a5a;font-weight:normal;">Hu</div>
<div class="t " style="left:130.30px;top:133.70px;font-size:8.0px;line-height:9.2px;color:#5a5a5a;font-weight:normal;">ma</div>
<div class="t " style="left:130.30px;top:145.50px;font-size:8.0px;line-height:9.2px;color:#5a5a5a;font-weight:normal;">n</div>
<div class="t " style="left:130.30px;top:157.30px;font-size:8.0px;line-height:9.2px;color:#5a5a5a;font-weight:normal;">Res</div>
<div class="t " style="left:130.30px;top:169.10px;font-size:8.0px;line-height:9.2px;color:#5a5a5a;font-weight:normal;">our</div>
<div class="t " style="left:130.30px;top:180.90px;font-size:8.0px;line-height:9.2px;color:#5a5a5a;font-weight:normal;">ces</div>
<div class="t " style="left:186.40px;top:139.60px;font-size:8.0px;line-height:9.2px;color:#5a5a5a;font-weight:normal;">Acc</div>
<div class="t " style="left:186.40px;top:151.40px;font-size:8.0px;line-height:9.2px;color:#5a5a5a;font-weight:normal;">oun</div>
<div class="t " style="left:186.40px;top:163.20px;font-size:8.0px;line-height:9.2px;color:#5a5a5a;font-weight:normal;">tant</div>
<div class="t " style="left:242.00px;top:127.80px;font-size:8.0px;line-height:9.2px;color:#5a5a5a;font-weight:normal;">Full</div>
<div class="t " style="left:242.00px;top:139.60px;font-size:8.0px;line-height:9.2px;color:#5a5a5a;font-weight:normal;">y</div>
<div class="t " style="left:242.00px;top:151.40px;font-size:8.0px;line-height:9.2px;color:#5a5a5a;font-weight:normal;">Re</div>
<div class="t " style="left:242.00px;top:163.20px;font-size:8.0px;line-height:9.2px;color:#5a5a5a;font-weight:normal;">mot</div>
<div class="t " style="left:242.00px;top:175.00px;font-size:8.0px;line-height:9.2px;color:#5a5a5a;font-weight:normal;">e</div>
<div class="t " style="left:298.10px;top:145.50px;font-size:8.0px;line-height:9.2px;color:#5a5a5a;font-weight:normal;">Ho</div>
<div class="t " style="left:298.10px;top:157.30px;font-size:8.0px;line-height:9.2px;color:#5a5a5a;font-weight:normal;">me</div>
<div class="t " style="left:354.00px;top:116.00px;font-size:8.0px;line-height:9.2px;color:#5a5a5a;font-weight:normal;">Vie</div>
<div class="t " style="left:354.00px;top:127.80px;font-size:8.0px;line-height:9.2px;color:#5a5a5a;font-weight:normal;">w</div>
<div class="t " style="left:354.00px;top:139.60px;font-size:8.0px;line-height:9.2px;color:#5a5a5a;font-weight:normal;">Em</div>
<div class="t " style="left:354.00px;top:151.40px;font-size:8.0px;line-height:9.2px;color:#5a5a5a;font-weight:normal;">plo</div>
<div class="t " style="left:354.00px;top:163.20px;font-size:8.0px;line-height:9.2px;color:#5a5a5a;font-weight:normal;">yee</div>
<div class="t " style="left:354.00px;top:175.00px;font-size:8.0px;line-height:9.2px;color:#5a5a5a;font-weight:normal;">Det</div>
<div class="t " style="left:354.00px;top:186.80px;font-size:8.0px;line-height:9.2px;color:#5a5a5a;font-weight:normal;">ails</div>
<div class="t " style="left:409.60px;top:116.00px;font-size:8.0px;line-height:9.2px;color:#5a5a5a;font-weight:normal;">Vie</div>
<div class="t " style="left:409.60px;top:127.80px;font-size:8.0px;line-height:9.2px;color:#5a5a5a;font-weight:normal;">w</div>
<div class="t " style="left:409.60px;top:139.60px;font-size:8.0px;line-height:9.2px;color:#5a5a5a;font-weight:normal;">Req</div>
<div class="t " style="left:409.60px;top:151.40px;font-size:8.0px;line-height:9.2px;color:#5a5a5a;font-weight:normal;">ues</div>
<div class="t " style="left:409.60px;top:163.20px;font-size:8.0px;line-height:9.2px;color:#5a5a5a;font-weight:normal;">t</div>
<div class="t " style="left:409.60px;top:175.00px;font-size:8.0px;line-height:9.2px;color:#5a5a5a;font-weight:normal;">Det</div>
<div class="t " style="left:409.60px;top:186.80px;font-size:8.0px;line-height:9.2px;color:#5a5a5a;font-weight:normal;">ails</div>
<div class="t " style="left:466.00px;top:151.40px;font-size:8.0px;line-height:9.2px;color:#5a5a5a;font-weight:normal;">HXBTPP05</div>
<div class="t " style="left:18.30px;top:238.10px;font-size:8.0px;line-height:9.2px;color:#5a5a5a;font-weight:normal;">Rob</div>
<div class="t " style="left:18.30px;top:249.90px;font-size:8.0px;line-height:9.2px;color:#5a5a5a;font-weight:normal;">ert</div>
<div class="t " style="left:18.30px;top:261.70px;font-size:8.0px;line-height:9.2px;color:#5a5a5a;font-weight:normal;">Tho</div>
<div class="t " style="left:18.30px;top:273.50px;font-size:8.0px;line-height:9.2px;color:#5a5a5a;font-weight:normal;">mas</div>
<div class="t " style="left:74.30px;top:214.50px;font-size:8.0px;line-height:9.2px;color:#5a5a5a;font-weight:normal;">Glo</div>
<div class="t " style="left:74.30px;top:226.30px;font-size:8.0px;line-height:9.2px;color:#5a5a5a;font-weight:normal;">bal</div>
<div class="t " style="left:74.30px;top:238.10px;font-size:8.0px;line-height:9.2px;color:#5a5a5a;font-weight:normal;">Bus</div>
<div class="t " style="left:74.30px;top:249.90px;font-size:8.0px;line-height:9.2px;color:#5a5a5a;font-weight:normal;">ines</div>
<div class="t " style="left:74.30px;top:261.70px;font-size:8.0px;line-height:9.2px;color:#5a5a5a;font-weight:normal;">s</div>
<div class="t " style="left:74.30px;top:273.50px;font-size:8.0px;line-height:9.2px;color:#5a5a5a;font-weight:normal;">Insti</div>
<div class="t " style="left:74.30px;top:285.30px;font-size:8.0px;line-height:9.2px;color:#5a5a5a;font-weight:normal;">tute</div>
<div class="t " style="left:74.30px;top:297.10px;font-size:8.0px;line-height:9.2px;color:#5a5a5a;font-weight:normal;">BU</div>
<div class="t " style="left:130.30px;top:226.30px;font-size:8.0px;line-height:9.2px;color:#5a5a5a;font-weight:normal;">Hu</div>
<div class="t " style="left:130.30px;top:238.10px;font-size:8.0px;line-height:9.2px;color:#5a5a5a;font-weight:normal;">ma</div>
<div class="t " style="left:130.30px;top:249.90px;font-size:8.0px;line-height:9.2px;color:#5a5a5a;font-weight:normal;">n</div>
<div class="t " style="left:130.30px;top:261.70px;font-size:8.0px;line-height:9.2px;color:#5a5a5a;font-weight:normal;">Res</div>
<div class="t " style="left:130.30px;top:273.50px;font-size:8.0px;line-height:9.2px;color:#5a5a5a;font-weight:normal;">our</div>
<div class="t " style="left:130.30px;top:285.30px;font-size:8.0px;line-height:9.2px;color:#5a5a5a;font-weight:normal;">ces</div>
<div class="t " style="left:186.40px;top:244.00px;font-size:8.0px;line-height:9.2px;color:#5a5a5a;font-weight:normal;">Acc</div>
<div class="t " style="left:186.40px;top:255.80px;font-size:8.0px;line-height:9.2px;color:#5a5a5a;font-weight:normal;">oun</div>
<div class="t " style="left:186.40px;top:267.60px;font-size:8.0px;line-height:9.2px;color:#5a5a5a;font-weight:normal;">tant</div>
<div class="t " style="left:242.00px;top:232.20px;font-size:8.0px;line-height:9.2px;color:#5a5a5a;font-weight:normal;">Full</div>
<div class="t " style="left:242.00px;top:244.00px;font-size:8.0px;line-height:9.2px;color:#5a5a5a;font-weight:normal;">y</div>
<div class="t " style="left:242.00px;top:255.80px;font-size:8.0px;line-height:9.2px;color:#5a5a5a;font-weight:normal;">Re</div>
<div class="t " style="left:242.00px;top:267.60px;font-size:8.0px;line-height:9.2px;color:#5a5a5a;font-weight:normal;">mot</div>
<div class="t " style="left:242.00px;top:279.40px;font-size:8.0px;line-height:9.2px;color:#5a5a5a;font-weight:normal;">e</div>
<div class="t " style="left:298.10px;top:249.90px;font-size:8.0px;line-height:9.2px;color:#5a5a5a;font-weight:normal;">Ho</div>
<div class="t " style="left:298.10px;top:261.70px;font-size:8.0px;line-height:9.2px;color:#5a5a5a;font-weight:normal;">me</div>
<div class="t " style="left:354.00px;top:220.40px;font-size:8.0px;line-height:9.2px;color:#5a5a5a;font-weight:normal;">Vie</div>
<div class="t " style="left:354.00px;top:232.20px;font-size:8.0px;line-height:9.2px;color:#5a5a5a;font-weight:normal;">w</div>
<div class="t " style="left:354.00px;top:244.00px;font-size:8.0px;line-height:9.2px;color:#5a5a5a;font-weight:normal;">Em</div>
<div class="t " style="left:354.00px;top:255.80px;font-size:8.0px;line-height:9.2px;color:#5a5a5a;font-weight:normal;">plo</div>
<div class="t " style="left:354.00px;top:267.60px;font-size:8.0px;line-height:9.2px;color:#5a5a5a;font-weight:normal;">yee</div>
<div class="t " style="left:354.00px;top:279.40px;font-size:8.0px;line-height:9.2px;color:#5a5a5a;font-weight:normal;">Det</div>
<div class="t " style="left:354.00px;top:291.20px;font-size:8.0px;line-height:9.2px;color:#5a5a5a;font-weight:normal;">ails</div>
<div class="t " style="left:409.60px;top:220.40px;font-size:8.0px;line-height:9.2px;color:#5a5a5a;font-weight:normal;">Vie</div>
<div class="t " style="left:409.60px;top:232.20px;font-size:8.0px;line-height:9.2px;color:#5a5a5a;font-weight:normal;">w</div>
<div class="t " style="left:409.60px;top:244.00px;font-size:8.0px;line-height:9.2px;color:#5a5a5a;font-weight:normal;">Req</div>
<div class="t " style="left:409.60px;top:255.80px;font-size:8.0px;line-height:9.2px;color:#5a5a5a;font-weight:normal;">ues</div>
<div class="t " style="left:409.60px;top:267.60px;font-size:8.0px;line-height:9.2px;color:#5a5a5a;font-weight:normal;">t</div>
<div class="t " style="left:409.60px;top:279.40px;font-size:8.0px;line-height:9.2px;color:#5a5a5a;font-weight:normal;">Det</div>
<div class="t " style="left:409.60px;top:291.20px;font-size:8.0px;line-height:9.2px;color:#5a5a5a;font-weight:normal;">ails</div>
<div class="t " style="left:466.00px;top:255.80px;font-size:8.0px;line-height:9.2px;color:#5a5a5a;font-weight:normal;">HXBTPP04</div>
</div>
<div class="r" style="left:551.5px;top:494px;width:503px;height:1px;background:#e3e5e8"></div>
<div class="r" style="left:551.5px;top:598.5px;width:503px;height:1px;background:#e3e5e8"></div>
<div class="r" style="left:969.5px;top:370.2px;width:78.5px;height:49px;background:#fff;border-radius:2px;box-shadow:0 1px 4px rgba(0,0,0,0.22)"></div>
<div class="r" style="left:1005.5px;top:366.8px;width:6px;height:6px;background:#fff;transform:rotate(45deg);box-shadow:-1px -1px 1px rgba(0,0,0,0.06)"></div>
<div class="t " style="left:976.5px;top:377.6px;font-size:9.4px;line-height:10.81px;color:#555;font-weight:normal;">Formatted CSV</div>
<div class="t " style="left:976.5px;top:402.36px;font-size:8.95px;line-height:10.29px;color:#555;font-weight:normal;">Raw CSV</div>
<div class="r" style="left:1077.4px;top:288px;width:13.2px;height:352px;background:#f1f1f1"></div>
<svg class="r" style="left:1080.5px;top:293.5px" width="7" height="5" viewBox="0 0 7 5"><path d="M0 4.5 L3.5 0.5 L7 4.5Z" fill="#505050"/></svg>
<div class="r" style="left:1078px;top:516px;width:12px;height:124px;background:#c1c1c1"></div>
<div class="r" style="left:913.3px;top:323px;width:179.4px;height:131.8px;border:5.7px solid #bb0409;box-sizing:border-box"></div>
<div class="r" style="left:1071px;top:338px;width:1.7px;height:131.5px;background:#a9a9a9;border-radius:1px"></div>
<div class="r" style="left:11px;top:271px;width:1080px;height:17px;background:#1f2733"></div>
<div class="r" style="left:15px;top:271.5px;width:107.5px;height:16px;border:1px solid #3b4452;box-sizing:border-box;border-radius:1px"></div>
<svg class="r" style="left:20.5px;top:274.5px" width="6" height="9" viewBox="0 0 6 9"><path d="M5 0.7 L1.2 4.5 L5 8.3" stroke="#fff" stroke-width="1.3" fill="none"/></svg>
<div class="t " style="left:30.9px;top:274.75px;font-size:7.75px;line-height:8.91px;color:#fff;font-weight:normal;">Workforce Administrator</div>
<div class="t " style="left:493.6px;top:271.11px;font-size:11.3px;line-height:12.99px;color:#fff;font-weight:normal;">Remote Worker Insight</div>
<svg class="r" style="left:0;top:260px" width="1110" height="30" viewBox="0 260 1110 30">
<g stroke="#fff" stroke-width="1.2" fill="none" stroke-linejoin="round" stroke-linecap="round">
<path d="M964.3 277 L970 271.8 L975.7 277 M965.6 276 L965.6 283 L968.4 283 L968.4 279.2 L971.6 279.2 L971.6 283 L974.4 283 L974.4 276"/>
<circle cx="995.4" cy="276.2" r="4.2"/>
<path d="M998.4 279.3 L1002.6 283.5"/>
<path d="M1019.2 281.5 L1020.8 279.5 L1020.8 276 A3.2 3.2 0 0 1 1027.2 276 L1027.2 279.5 L1028.8 281.5 Z M1022.6 282.8 L1025.4 282.8"/>
<circle cx="1078.5" cy="277.8" r="5.5" stroke-width="1.3"/>
<path d="M1082.2 274 L1079.3 278.3 L1074.9 281.4 L1077.8 277.2Z" fill="#fff" stroke-width="0.3"/>
</g>
<g fill="#fff"><circle cx="1051.3" cy="273.3" r="1.35"/><circle cx="1051.3" cy="277.6" r="1.35"/><circle cx="1051.3" cy="281.9" r="1.35"/></g>
</svg>
<div class="r" style="left:0px;top:640px;width:1110px;height:15px;background:#fff"></div>
</body></html>
